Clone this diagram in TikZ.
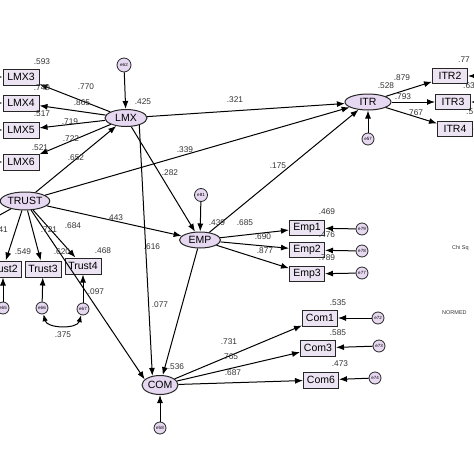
\documentclass[tikz,border=0pt]{standalone}
\usepackage{fontspec}
\setmainfont{Liberation Sans}
\usetikzlibrary{shapes.geometric,arrows.meta}
\definecolor{boxfill}{HTML}{ECE4F3}
\definecolor{latfill}{HTML}{E6D8F0}

\begin{document}
\begin{tikzpicture}[x=1pt, y=-1pt,
  obs/.style={draw=black!85, fill=boxfill, line width=1pt, minimum width=36pt, minimum height=16pt, inner sep=1pt, font=\fontsize{10.5}{12}\selectfont},
  lat/.style={ellipse, draw=black!85, fill=latfill, line width=1pt, inner sep=0pt, font=\fontsize{10.5}{12}\selectfont},
  err/.style={circle, draw=black!85, fill=latfill, line width=0.8pt, minimum size=12pt, inner sep=0pt, font=\fontsize{4.5}{5}\selectfont},
  arr/.style={-{Latex[length=8pt,width=6pt]}, line width=1pt},
  est/.style={font=\fontsize{8.3}{9}\selectfont, text=black!80, inner sep=0pt}]
  \useasboundingbox (0,0) rectangle (474,474);

  % latent variables
  \node[lat, minimum width=42pt, minimum height=17pt] (LMX) at (126,118) {LMX};
  \node[lat, minimum width=36pt, minimum height=18pt] (TRUST) at (25,201) {TRUST};
  \node[lat, minimum width=41pt, minimum height=16pt] (EMP) at (200,240) {EMP};
  \node[lat, minimum width=46pt, minimum height=16pt] (ITR) at (368,102) {ITR};
  \node[lat, minimum width=36pt, minimum height=19pt] (COM) at (160,385) {COM};

  % indicators
  \node[obs] (LMX3) at (21,77) {LMX3};
  \node[obs] (LMX4) at (21,103) {LMX4};
  \node[obs] (LMX5) at (21,130) {LMX5};
  \node[obs] (LMX6) at (21,162) {LMX6};
  \node[obs] (Trust2) at (3,269) {Trust2};
  \node[obs] (Trust3) at (43,269) {Trust3};
  \node[obs] (Trust4) at (83,266) {Trust4};
  \node[obs, minimum width=35pt, minimum height=15pt] (Emp1) at (307,228) {Emp1};
  \node[obs, minimum width=35pt, minimum height=15pt] (Emp2) at (307,250) {Emp2};
  \node[obs, minimum width=35pt, minimum height=15pt] (Emp3) at (307,274) {Emp3};
  \node[obs, minimum width=35pt, minimum height=15pt] (ITR2) at (450,76) {ITR2};
  \node[obs, minimum width=35pt, minimum height=15pt] (ITR3) at (453,102) {ITR3};
  \node[obs, minimum width=35pt, minimum height=15pt] (ITR4) at (455,129) {ITR4};
  \node[obs, minimum width=35pt] (Com1) at (320,318) {Com1};
  \node[obs, minimum width=35pt] (Com3) at (318,348) {Com3};
  \node[obs, minimum width=35pt] (Com6) at (321,380) {Com6};

  % error terms
  \node[err, minimum size=14pt] (e62) at (124,65) {e62};
  \node[err] (e65) at (3,308) {e65};
  \node[err] (e66) at (42,308) {e66};
  \node[err] (e67) at (83,309) {e67};
  \node[err, minimum size=13pt] (e81) at (201,195) {e81};
  \node[err] (e79) at (362,229) {e79};
  \node[err] (e78) at (362,251) {e78};
  \node[err] (e77) at (362,273) {e77};
  \node[err] (e57) at (368,139) {e57};
  \node[err] (e58) at (160,428) {e58};
  \node[err] (e72) at (378,318) {e72};
  \node[err] (e73) at (379,346) {e73};
  \node[err] (e74) at (375,378) {e74};

  % errors outside the frame
  \coordinate (o3) at (-12,77);
  \coordinate (o4) at (-12,103);
  \coordinate (o5) at (-12,130);
  \coordinate (o6) at (-12,162);
  \coordinate (oi2) at (492,76);
  \coordinate (oi3) at (495,102);
  \coordinate (oi4) at (497,129);
  \coordinate (t1) at (-20,226);

  % structural paths
  \draw[arr] (e62) -- (LMX);
  \draw[arr] (TRUST) -- (LMX);
  \draw[arr] (LMX) -- (ITR);
  \draw[arr] (TRUST) -- (ITR);
  \draw[arr] (LMX) -- (EMP);
  \draw[arr] (LMX.-28) -- (COM.130);
  \draw[arr] (TRUST) -- (EMP);
  \draw[arr] (EMP) -- (ITR);
  \draw[arr] (EMP) -- (COM);
  \draw[arr] (TRUST) -- (COM.160);
  \draw[arr] (e81) -- (EMP);
  \draw[arr] (e57) -- (ITR);
  \draw[arr] (e58) -- (COM);

  % measurement paths
  \foreach \i in {3,4,5,6} {
    \draw[arr] (LMX) -- (LMX\i);
    \draw[arr] (o\i) -- (LMX\i);
  }
  \draw[arr] (TRUST) -- (t1);
  \foreach \i/\e in {2/e65,3/e66,4/e67} {
    \draw[arr] (TRUST) -- (Trust\i);
    \draw[arr] (\e) -- (Trust\i);
  }
  \draw[{Latex[length=7pt,width=5.5pt]}-{Latex[length=7pt,width=5.5pt]}, line width=1pt] (e66) to[bend right=75] (e67);
  \foreach \i/\e in {1/e79,2/e78,3/e77} {
    \draw[arr] (EMP) -- (Emp\i);
    \draw[arr] (\e) -- (Emp\i);
  }
  \foreach \i in {2,3,4} {
    \draw[arr] (ITR) -- (ITR\i);
    \draw[arr] (oi\i) -- (ITR\i);
  }
  \foreach \i/\e in {1/e72,3/e73,6/e74} {
    \draw[arr] (COM) -- (Com\i);
    \draw[arr] (\e) -- (Com\i);
  }

  % estimates
  \node[est] at (42,62) {.593};
  \node[est] at (42,88) {.749};
  \node[est] at (42,114) {.517};
  \node[est] at (40,148) {.521};
  \node[est] at (86,87) {.770};
  \node[est] at (82,103) {.865};
  \node[est] at (70,122) {.719};
  \node[est] at (71,139) {.722};
  \node[est] at (76,158) {.652};
  \node[est] at (143,102) {.425};
  \node[est] at (235,100) {.321};
  \node[est] at (185,150) {.339};
  \node[est] at (170,173) {.282};
  \node[est] at (278,166) {.175};
  \node[est] at (115,218) {.443};
  \node[est] at (73,226) {.684};
  \node[est] at (49,230) {.721};
  \node[est, anchor=east] at (8,230) {41};
  \node[est] at (23,252) {.549};
  \node[est] at (62,252) {.620};
  \node[est] at (103,251) {.468};
  \node[est] at (96,292) {.097};
  \node[est] at (63,335) {.375};
  \node[est] at (152,247) {.616};
  \node[est] at (160,305) {.077};
  \node[est] at (217,223) {.439};
  \node[est] at (245,223) {.685};
  \node[est] at (263,237) {.690};
  \node[est] at (265,251) {.877};
  \node[est] at (327,212) {.469};
  \node[est] at (327,235) {.476};
  \node[est] at (327,258) {.789};
  \node[est] at (386,86) {.528};
  \node[est] at (402,78) {.879};
  \node[est] at (403,97) {.793};
  \node[est] at (415,113) {.767};
  \node[est, anchor=west] at (458,60) {.77};
  \node[est, anchor=west] at (463,86) {.63};
  \node[est, anchor=west] at (466,112) {.5};
  \node[est] at (338,303) {.535};
  \node[est] at (338,333) {.585};
  \node[est] at (340,364) {.473};
  \node[est] at (229,342) {.731};
  \node[est] at (230,357) {.765};
  \node[est] at (233,373) {.687};
  \node[est] at (176,367) {.536};

  % fit indices (cut off at the edge)
  \node[est, anchor=west, font=\fontsize{5.5}{6}\selectfont] at (452,248) {Chi Sq};
  \node[est, anchor=west, font=\fontsize{5.5}{6}\selectfont] at (442,313) {NORMED};
\end{tikzpicture}
\end{document}
